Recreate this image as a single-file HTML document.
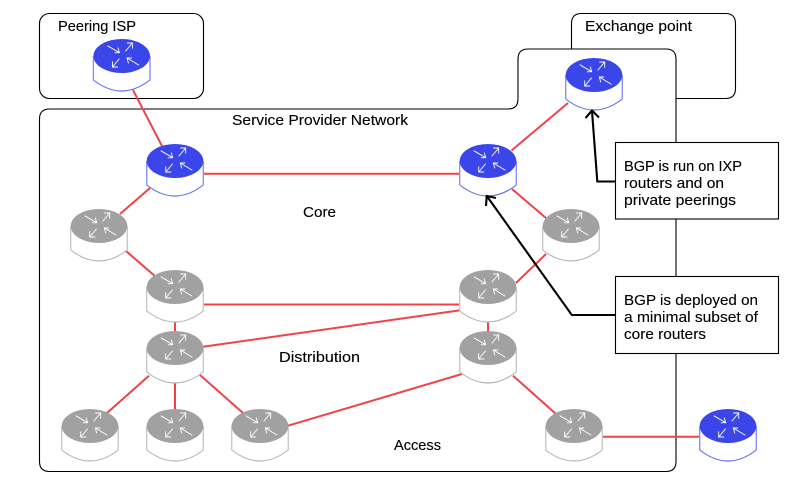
<!DOCTYPE html>
<html lang="en">
<head>
<meta charset="utf-8">
<title>Service Provider Network</title>
<style>
html,body{margin:0;padding:0;background:#fff;width:800px;height:480px;overflow:hidden}
svg{display:block}
text{font-family:"Liberation Sans",sans-serif;font-size:14.5px;fill:#000;stroke:#000;stroke-width:.12}
.p{fill:none;stroke:#000;stroke-width:1.1}
.r{stroke:#f04347;stroke-width:2;fill:none}
.a{stroke:#000;stroke-width:2.1;fill:none}
.box{fill:#fff;stroke:#000;stroke-width:1.1}
</style>
</head>
<body>
<svg width="800" height="480" viewBox="0 0 800 480" xmlns="http://www.w3.org/2000/svg">
<defs>
<g id="arrows" fill="none" stroke="#fff" stroke-width=".9">
<path d="M-14.3-10.3L-2.3-3.3M-7.2-3.2L-2.3-3.3L-3.8-8.4"/>
<path d="M3.7-4.7L10.7-13M5.2-13L10.7-13L10.7-7.4"/>
<path d="M-2.3 2.7L-9.3 11M-9.3 5.4L-9.3 11L-3.8 11"/>
<path d="M17.3 9.3L5.3 2M6.8 7.4L5.3 2L10.2 2"/>
</g>
<g id="blue">
<path d="M-28.3 0V24Q0 46 28.3 24V0Z" fill="#fff" stroke="none"/>
<path d="M-28.3 0V24M28.3 0V24" fill="none" stroke="#8a90f8" stroke-width="1.4"/>
<path d="M-28.3 24Q0 46 28.3 24" fill="none" stroke="#6068f5" stroke-width="1.1"/>
<ellipse cx="0" cy="0" rx="28.3" ry="17" fill="#3a45ea"/>
<use href="#arrows"/>
</g>
<g id="gray">
<path d="M-28.3 0V24Q0 46 28.3 24V0Z" fill="#fff" stroke="none"/>
<path d="M-28.3 0V24M28.3 0V24" fill="none" stroke="#c8c8c8" stroke-width="1.4"/>
<path d="M-28.3 24Q0 46 28.3 24" fill="none" stroke="#b4b4b4" stroke-width="1.1"/>
<ellipse cx="0" cy="0" rx="28.3" ry="17" fill="#a1a1a1"/>
<use href="#arrows"/>
</g>
</defs>

<rect class="p" x="39.5" y="13.5" width="164" height="85" rx="10"/>
<path class="p" d="M571.5 49V23.5Q571.5 13.5 581.5 13.5H725.5Q735.5 13.5 735.5 23.5V88.5Q735.5 98.5 725.5 98.5H676"/>
<path class="p" d="M39.5 119Q39.5 109 49.5 109H508Q518 109 518 99V59Q518 49 528 49H666Q676 49 676 59V461.5Q676 471.5 666 471.5H49.5Q39.5 471.5 39.5 461.5Z"/>

<g class="r">
<path d="M133 90L162 146"/>
<path d="M200 173.7H462"/>
<path d="M150 188L120 214"/>
<path d="M126 251L156 277"/>
<path d="M200 304.5H462"/>
<path d="M203 346.7L462 310"/>
<path d="M175 315V335"/>
<path d="M488 315V335"/>
<path d="M511.5 150.5L568 103"/>
<path d="M512 189L546 218"/>
<path d="M546 254L516 283"/>
<path d="M149 375.7L107 413"/>
<path d="M175 380V412"/>
<path d="M200 375L243 413"/>
<path d="M288 425.7L462 374"/>
<path d="M513 375.7L556 414"/>
<path d="M600 436.7H702"/>
</g>

<use href="#blue" x="121.7" y="56"/>
<use href="#blue" x="175" y="161"/>
<use href="#blue" x="488" y="161"/>
<use href="#blue" x="594" y="75"/>
<use href="#blue" x="728" y="426"/>
<use href="#gray" x="99" y="226"/>
<use href="#gray" x="571" y="226"/>
<use href="#gray" x="175" y="287"/>
<use href="#gray" x="488" y="287"/>
<use href="#gray" x="175" y="348"/>
<use href="#gray" x="488" y="348"/>
<use href="#gray" x="90" y="426"/>
<use href="#gray" x="175" y="426"/>
<use href="#gray" x="260" y="426"/>
<use href="#gray" x="574" y="426"/>

<rect class="box" x="615.5" y="142.5" width="163" height="76.5"/>
<rect class="box" x="615.5" y="276.5" width="163" height="77"/>

<path class="a" d="M615.5 181.5H597.3L592 111"/>
<path class="a" d="M585.5 118L592 110.5L599 117.5"/>
<path class="a" d="M615.5 315H571.8L487.5 197"/>
<path class="a" d="M486 206L486.7 196L496 198"/>

<text x="58" y="31" textLength="78" lengthAdjust="spacingAndGlyphs">Peering ISP</text>
<text x="585" y="31" textLength="107" lengthAdjust="spacingAndGlyphs">Exchange point</text>
<text x="232" y="125" textLength="176" lengthAdjust="spacingAndGlyphs">Service Provider Network</text>
<text x="303" y="217" textLength="33" lengthAdjust="spacingAndGlyphs">Core</text>
<text x="279" y="362" textLength="81" lengthAdjust="spacingAndGlyphs">Distribution</text>
<text x="394" y="450" textLength="47" lengthAdjust="spacingAndGlyphs">Access</text>
<text x="624" y="171" textLength="118" lengthAdjust="spacingAndGlyphs">BGP is run on IXP</text>
<text x="624" y="188" textLength="100" lengthAdjust="spacingAndGlyphs">routers and on</text>
<text x="624" y="205" textLength="112" lengthAdjust="spacingAndGlyphs">private peerings</text>
<text x="624" y="305" textLength="134" lengthAdjust="spacingAndGlyphs">BGP is deployed on</text>
<text x="624" y="322" textLength="134" lengthAdjust="spacingAndGlyphs">a minimal subset of</text>
<text x="624" y="339" textLength="82" lengthAdjust="spacingAndGlyphs">core routers</text>
</svg>
</body>
</html>
